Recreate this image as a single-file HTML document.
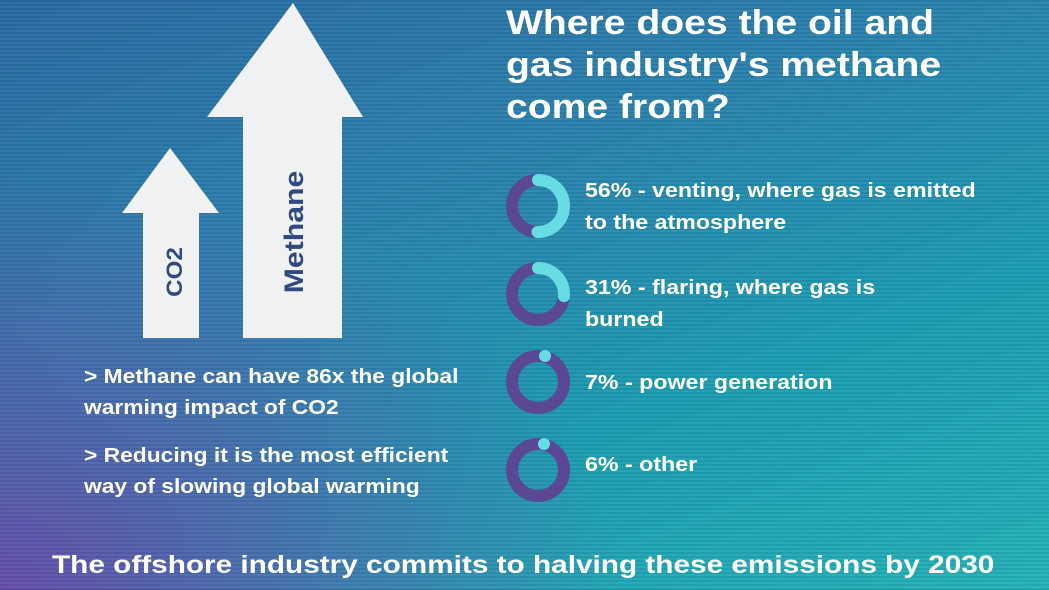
<!DOCTYPE html>
<html><head><style>
body{margin:0}
#c{position:relative;width:1049px;height:590px;overflow:hidden;font-family:"Liberation Sans",sans-serif;font-weight:bold;color:#fff;
background:linear-gradient(160deg,#2a6aa4 0%,#2b82ae 35%,#1d9cb3 65%,#25b2b8 100%);}
#ov{position:absolute;inset:0;background:radial-gradient(ellipse 620px 420px at 0% 100%,rgba(110,70,170,.9),rgba(110,70,170,0) 100%);}
#ln{position:absolute;inset:0;background:repeating-linear-gradient(0deg,rgba(0,0,0,.06) 0 2px,rgba(255,255,255,.03) 2px 4px);}
.t{position:absolute;white-space:nowrap;transform-origin:0 0}
.b{font-size:20px;line-height:32px;transform:scaleX(1.16)}
</style></head><body><div id="c"><div id="ov"></div><div id="ln"></div>
<svg width="1049" height="590" style="position:absolute;left:0;top:0">
<polygon points="293,3 363,117 342,117 342,338 243,338 243,117 207,117" fill="#f0f1f3"/>
<polygon points="170,148 219,213 199,213 199,338 143,338 143,213 122,213" fill="#f0f1f3"/>
<text transform="translate(303,232) rotate(-90) scale(1.12,1)" text-anchor="middle" font-family="Liberation Sans" font-weight="bold" font-size="27" fill="#2f4a82">Methane</text>
<text transform="translate(182,272) rotate(-90) scale(1.1,1)" text-anchor="middle" font-family="Liberation Sans" font-weight="bold" font-size="22" fill="#2f4a82">CO2</text>
<g fill="none" stroke-width="12">
<circle cx="538" cy="206" r="26" stroke="#5a4894"/>
<circle cx="538" cy="294" r="26" stroke="#5a4894"/>
<circle cx="538" cy="382" r="26" stroke="#5a4894"/>
<circle cx="538" cy="470" r="26" stroke="#5a4894"/>
<circle cx="538" cy="206" r="26" stroke="#66dde3" stroke-linecap="round" stroke-dasharray="82 200" transform="rotate(-90 538 206)"/>
<circle cx="538" cy="294" r="26" stroke="#66dde3" stroke-linecap="round" stroke-dasharray="43 200" transform="rotate(-90 538 294)"/>
</g>
<circle cx="545" cy="356" r="6" fill="#66dde3"/>
<circle cx="544" cy="444" r="6" fill="#66dde3"/>
</svg>
<div class="t" style="left:506px;top:2px;font-size:34px;line-height:42px;transform:scaleX(1.15)">Where does the oil and<br>gas industry's methane<br>come from?</div>
<div class="t b" style="left:585px;top:175px">56% - venting, where gas is emitted<br>to the atmosphere</div>
<div class="t b" style="left:585px;top:272px">31% - flaring, where gas is<br>burned</div>
<div class="t b" style="left:585px;top:367px">7% - power generation</div>
<div class="t b" style="left:585px;top:449px">6% - other</div>
<div class="t b" style="left:84px;top:362px;line-height:31px;transform:scaleX(1.14)">&gt; Methane can have 86x the global<br>warming impact of CO2</div>
<div class="t b" style="left:84px;top:441px;line-height:31px;transform:scaleX(1.14)">&gt; Reducing it is the most efficient<br>way of slowing global warming</div>
<div class="t" style="left:52px;top:549px;font-size:25px;line-height:32px;transform:scaleX(1.19)">The offshore industry commits to halving these emissions by 2030</div>
</div></body></html>
